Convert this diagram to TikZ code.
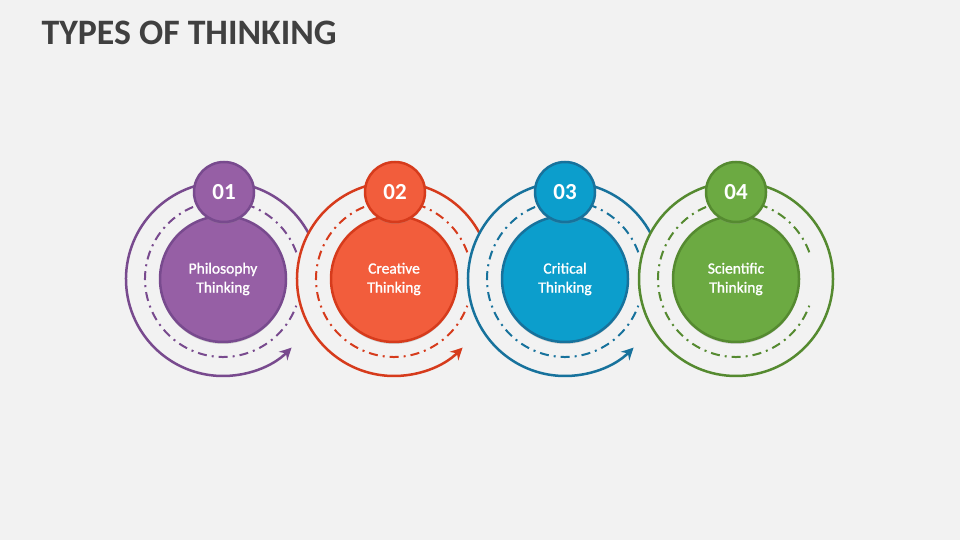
\documentclass[tikz,border=0pt]{standalone}
\usepackage{fontspec}
\setmainfont{Carlito}
\newfontfamily\labelfont[FakeBold=1.2]{Carlito}
\usetikzlibrary{arrows.meta,shadows}
\definecolor{bgray}{HTML}{F2F2F2}
\definecolor{titlegray}{HTML}{404040}
\definecolor{purpfill}{HTML}{965FA5}
\definecolor{purpline}{HTML}{784A8E}
\definecolor{redfill}{HTML}{F25D3C}
\definecolor{redline}{HTML}{D63B1C}
\definecolor{bluefill}{HTML}{0C9ECC}
\definecolor{blueline}{HTML}{17729C}
\definecolor{greenfill}{HTML}{6CAA42}
\definecolor{greenline}{HTML}{558A30}

\begin{document}
\begin{tikzpicture}[x=1pt,y=1pt,
  big/.style={circle,draw,line width=2.5pt,minimum size=126pt,inner sep=0pt,align=center,
    text=white,font=\labelfont\fontsize{15.5}{19}\selectfont,
    drop shadow={opacity=0.3,shadow xshift=0pt,shadow yshift=-2pt}},
  num/.style={circle,draw,line width=2.5pt,minimum size=60pt,inner sep=0pt,
    text=white,font=\bfseries\fontsize{23}{23}\selectfont,
    drop shadow={opacity=0.25,shadow xshift=0pt,shadow yshift=-2pt}},
  ring/.style={line width=2.5pt},
  dashdots/.style={line width=2pt,dash pattern=on 9pt off 5pt on 2pt off 5pt},
  tip/.style={-{Stealth[length=12pt,width=12pt]}}]
  \fill[bgray] (0,0) rectangle (960,540);
  \useasboundingbox (0,0) rectangle (960,540);

  \node[anchor=base west,text=titlegray,font=\bfseries\fontsize{35.8}{36}\selectfont] (title) at (38,495) {TYPES OF THINKING};

  \coordinate (c1) at (223,261);
  \coordinate (c2) at (394,261);
  \coordinate (c3) at (565,261);
  \coordinate (c4) at (736,261);

  \draw[ring,tip,purpline] (c1) ++(28:97) arc[start angle=28,end angle=315,radius=97];
  \draw[ring,tip,redline] (c2) ++(28:97) arc[start angle=28,end angle=315,radius=97];
  \draw[ring,tip,blueline] (c3) ++(28:97) arc[start angle=28,end angle=315,radius=97];
  \draw[ring,greenline] (c4) circle[radius=97];

  \draw[dashdots,purpline] (c1) ++(20:78) arc[start angle=20,end angle=340,radius=78];
  \draw[dashdots,redline] (c2) ++(20:78) arc[start angle=20,end angle=340,radius=78];
  \draw[dashdots,blueline] (c3) ++(20:78) arc[start angle=20,end angle=340,radius=78];
  \draw[dashdots,greenline] (c4) ++(20:78) arc[start angle=20,end angle=340,radius=78];

  \node[big,fill=purpfill,draw=purpline] (philo) at (c1) {Philosophy\\Thinking};
  \node[big,fill=redfill,draw=redline] (creat) at (c2) {Creative\\Thinking};
  \node[big,fill=bluefill,draw=blueline] (crit) at (c3) {Critical\\Thinking};
  \node[big,fill=greenfill,draw=greenline] (scien) at (c4) {Scientific\\Thinking};

  \node[num,fill=purpfill,draw=purpline] (n1) at (224,348) {01};
  \node[num,fill=redfill,draw=redline] (n2) at (395,348) {02};
  \node[num,fill=bluefill,draw=blueline] (n3) at (565,348) {03};
  \node[num,fill=greenfill,draw=greenline] (n4) at (736,348) {04};
\end{tikzpicture}
\end{document}
